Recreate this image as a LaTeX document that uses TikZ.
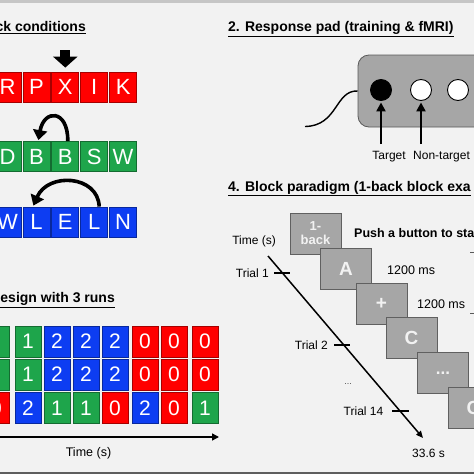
\documentclass[tikz,border=0pt]{standalone}
\usepackage{fontspec}
\setmainfont{Liberation Sans}
\usetikzlibrary{arrows.meta}
\definecolor{bg}{HTML}{F2F2F2}
\definecolor{topbar}{HTML}{C6C6C6}
\definecolor{botbar}{HTML}{5E5E5E}
\definecolor{cred}{HTML}{FF0000}
\definecolor{cgreen}{HTML}{1EA54B}
\definecolor{cblue}{HTML}{0D3DF2}
\definecolor{padgray}{HTML}{A6A6A6}
\definecolor{slidegray}{HTML}{A6A6A6}
\definecolor{slidetext}{HTML}{F2F2F2}
\begin{document}
\begin{tikzpicture}[x=1pt,y=-1pt,
  title/.style={font=\fontsize{14}{16}\selectfont\bfseries, inner sep=0pt},
  lbox/.style={minimum width=27pt, minimum height=30pt, inner sep=0pt, line width=0.8pt, text=white, font=\fontsize{22}{22}\selectfont},
  cell/.style={minimum width=26pt, minimum height=31pt, inner sep=0pt, line width=0.8pt, text=white, font=\fontsize{21}{21}\selectfont},
  lbl/.style={font=\fontsize{12}{14}\selectfont, inner sep=0pt},
  carrow/.style={line width=3.6pt, -{Triangle[width=14pt,length=10pt]}},
  slide/.style={fill=slidegray, draw=gray!75!black, line width=0.6pt, minimum width=51pt, minimum height=41pt, inner sep=0pt, text=slidetext, font=\fontsize{19}{19}\selectfont\bfseries},
  tick/.style={line width=1.2pt},
  btn/.style={circle, draw=black, line width=0.9pt, minimum size=21pt, inner sep=0pt},
  barrow/.style={line width=2.6pt, -{Triangle[width=9pt,length=9pt]}}
]
\useasboundingbox (0,0) rectangle (474,474);
\clip (0,0) rectangle (474,474);
\fill[bg] (0,0) rectangle (474,474);
\fill[topbar] (0,0) rectangle (474,2.5);
\fill[botbar] (0,471.5) rectangle (474,474);

% ---------- Panel 1 ----------
\node[title, anchor=base east] (t1) at (86,31.5) {\underline{ck conditions}};
\foreach \c/\t [count=\i] in {7.5/R,36.4/P,65.3/X,94.2/I,123.1/K}
  \node[lbox, fill=cred, draw=cred!65!black] (l1-\i) at (\c,87) {\t};
\foreach \c/\t [count=\i] in {7.5/D,36.4/B,65.3/B,94.2/S,123.1/W}
  \node[lbox, fill=cgreen, draw=cgreen!65!black] (l2-\i) at (\c,156.5) {\t};
\foreach \c/\t [count=\i] in {7.5/W,36.4/L,65.3/E,94.2/L,123.1/N}
  \node[lbox, fill=cblue, draw=cblue!65!black] (l3-\i) at (\c,222) {\t};
\coordinate (dtop) at (65.3,50);
\draw[line width=10pt, -{Triangle[width=24pt,length=11pt]}] (dtop) -- ([yshift=4pt]l1-3.north);
\draw[carrow] ([xshift=2.5pt]l2-3.north) .. controls (68,109) and (44,109) .. ([xshift=2pt,yshift=1pt]l2-2.north);
\draw[carrow] ([xshift=5pt]l3-4.north) .. controls (98,175) and (48,172) .. ([xshift=-3pt,yshift=1pt]l3-2.north);

% ---------- Panel 3 ----------
\node[title, anchor=base east] (t3) at (115,302.7) {\underline{esign with 3 runs}};
\foreach \c/\col/\d [count=\i] in {-4/cgreen/{},28/cgreen/1,57/cblue/2,86/cblue/2,115/cblue/2,145/cred/0,174/cred/0,205/cred/0}
  \node[cell, fill=\col, draw=\col!65!black] (ga\i) at (\c,341.5) {\d};
\foreach \c/\col/\d [count=\i] in {-4/cgreen/{},28/cgreen/1,57/cblue/2,86/cblue/2,115/cblue/2,145/cred/0,174/cred/0,205/cred/0}
  \node[cell, fill=\col, draw=\col!65!black] (gb\i) at (\c,374.5) {\d};
\foreach \c/\col/\d [count=\i] in {-4/cred/0,28/cblue/2,57/cgreen/1,86/cgreen/1,115/cred/0,145/cblue/2,174/cred/0,205/cgreen/1}
  \node[cell, fill=\col, draw=\col!65!black] (gc\i) at (\c,408) {\d};
\coordinate (axs) at (-2,437);
\coordinate (axe) at (219,437);
\draw[line width=1.5pt, -{Triangle[width=7pt,length=7pt]}] (axs) -- (axe);
\node[font=\fontsize{12.5}{14}\selectfont, inner sep=0pt] (tx) at (88.5,453) {Time (s)};

% ---------- Panel 2 ----------
\node[title, anchor=base west] (t2) at (228,31.5) {\underline{2. Response pad (training \& fMRI)}};
\node[fill=padgray, draw=gray!70!black, line width=0.8pt, rounded corners=11pt, minimum width=140pt, minimum height=72pt, inner sep=0pt] (pad) at (428,91) {};
\node[btn, fill=black] (b1) at (381,90) {};
\node[btn, fill=white] (b2) at (421,90) {};
\node[btn, fill=white] (b3) at (458,90) {};
\coordinate (cab) at (305,126.5);
\draw[line width=1.4pt] (pad.west) .. controls (335,90) and (338,126) .. (cab);
\coordinate (a1) at (381,144);
\coordinate (a2) at (421,144);
\draw[barrow, shorten >=1.5pt] (a1) -- (b1.south);
\draw[barrow, shorten >=1.5pt] (a2) -- (b2.south);
\node[lbl] (tg) at (389,157) {Target};
\node[lbl, anchor=west] (ntg) at (413,157) {Non-target};

% ---------- Panel 4 ----------
\node[title, anchor=base west] (t4) at (228,191) {\underline{4. Block paradigm (1-back block exa}};
\node[lbl, anchor=east] (tm) at (276,241) {Time (s)};
\coordinate (ts) at (268,256);
\coordinate (te) at (423,438);
\draw[line width=1.5pt, -{Triangle[width=6pt,length=7pt]}] (ts) -- (te);
\coordinate (k1a) at (274,273); \coordinate (k1b) at (290,273);
\coordinate (k2a) at (334,345); \coordinate (k2b) at (350,345);
\coordinate (k3a) at (392,411); \coordinate (k3b) at (409,411);
\draw[tick] (k1a) -- (k1b);
\draw[tick] (k2a) -- (k2b);
\draw[tick] (k3a) -- (k3b);
\node[lbl, anchor=east] (tr1) at (269,273) {Trial 1};
\node[lbl, anchor=east] (tr2) at (328,345) {Trial 2};
\node[font=\fontsize{9}{10}\selectfont, text=gray!60!black, inner sep=0pt] (dots) at (348,384) {...};
\node[lbl, anchor=east] (tr14) at (383.5,411) {Trial 14};
\node[lbl] (end) at (428.5,453) {33.6 s};

\node[slide, font=\fontsize{13}{14}\selectfont\bfseries, align=center] (s1) at (315.5,233.5) {1-\\back};
\node[slide] (s2) at (346,268.5) {A};
\node[slide] (s3) at (381.5,303.5) {+};
\node[slide] (s4) at (411.5,338) {C};
\node[slide, font=\fontsize{17}{17}\selectfont\bfseries] (s5) at (443,373) {...};
\node[slide] (s6) at (473.5,407.5) {C};

\node[font=\fontsize{12.5}{14}\selectfont\bfseries, anchor=west, inner sep=0pt] (push) at (354,233) {Push a button to sta};
\node[font=\fontsize{12.5}{14}\selectfont, anchor=west, inner sep=0pt] (ms1) at (387,270) {1200 ms};
\node[font=\fontsize{12.5}{14}\selectfont, anchor=west, inner sep=0pt] (ms2) at (417,304) {1200 ms};
\coordinate (m1a) at (470,252); \coordinate (m1b) at (475,252);
\coordinate (m2a) at (470,313); \coordinate (m2b) at (475,313);
\draw[gray!70!black, line width=0.8pt] (m1a) -- (m1b);
\draw[gray!70!black, line width=0.8pt] (m2a) -- (m2b);
\end{tikzpicture}
\end{document}
